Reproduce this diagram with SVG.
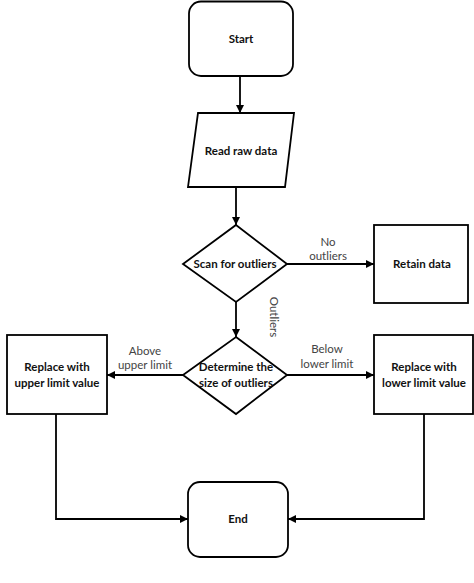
<svg xmlns="http://www.w3.org/2000/svg" width="474" height="583" viewBox="0 0 474 583">
<defs>
<marker id="ah" viewBox="0 0 10 10" refX="10" refY="5" markerWidth="8" markerHeight="8" markerUnits="userSpaceOnUse" orient="auto">
<path d="M0,0 L10,5 L0,10 Z" fill="#000"/>
</marker>
<style>
.s{fill:#fff;stroke:#000;stroke-width:1.8}
.t{font-family:Lato,"Open Sans","Liberation Sans",sans-serif;font-weight:bold;font-size:11.5px;fill:#111;text-anchor:middle}
.l{font-family:Lato,"Open Sans","Liberation Sans",sans-serif;font-size:11.5px;fill:#444;text-anchor:middle}
.c{fill:none;stroke:#000;stroke-width:1.8}
</style>
</defs>
<rect width="474" height="583" fill="#fff"/>
<g id="connectors">
<line class="c" x1="240" y1="77" x2="240" y2="113" marker-end="url(#ah)"/>
<line class="c" x1="236" y1="187" x2="236" y2="225" marker-end="url(#ah)"/>
<line class="c" x1="287" y1="264" x2="374" y2="264" marker-end="url(#ah)"/>
<line class="c" x1="236" y1="302" x2="236" y2="337" marker-end="url(#ah)"/>
<line class="c" x1="183" y1="375" x2="107" y2="375" marker-end="url(#ah)"/>
<line class="c" x1="287" y1="375" x2="374" y2="375" marker-end="url(#ah)"/>
<polyline class="c" points="56,414 56,519 188,519" marker-end="url(#ah)"/>
<polyline class="c" points="424,414 424,519 288,519" marker-end="url(#ah)"/>
<text class="l" x="328" y="246">No</text>
<text class="l" x="328" y="260">outliers</text>
<text class="l" transform="translate(270,317) rotate(90)" x="0" y="0">Outliers</text>
<text class="l" x="145" y="355">Above</text>
<text class="l" x="145" y="369">upper limit</text>
<text class="l" x="327" y="353">Below</text>
<text class="l" x="327" y="368">lower limit</text>
</g>
<g id="start">
<rect class="s" x="189" y="1.5" width="104" height="74.5" rx="12"/>
<text class="t" x="241" y="43">Start</text>
</g>
<g id="read">
<polygon class="s" points="198,113 294,113 285,187 188,187"/>
<text class="t" x="241" y="155">Read raw data</text>
</g>
<g id="scan">
<polygon class="s" points="236,225 287,264 236,302 183,264"/>
<text class="t" x="235" y="268">Scan for outliers</text>
</g>
<g id="retain">
<rect class="s" x="374" y="225" width="94" height="78"/>
<text class="t" x="422" y="268">Retain data</text>
</g>
<g id="determine">
<polygon class="s" points="236,337 287,375 236,414 183,375"/>
<text class="t" x="236" y="371">Determine the</text>
<text class="t" x="236" y="387">size of outliers</text>
</g>
<g id="upper">
<rect class="s" x="7" y="335" width="100" height="79"/>
<text class="t" x="57" y="371">Replace with</text>
<text class="t" x="57" y="387">upper limit value</text>
</g>
<g id="lower">
<rect class="s" x="374" y="335" width="99" height="79"/>
<text class="t" x="424" y="371">Replace with</text>
<text class="t" x="424" y="387">lower limit value</text>
</g>
<g id="end">
<rect class="s" x="188" y="482" width="100" height="75" rx="12"/>
<text class="t" x="238" y="523">End</text>
</g>
</svg>
